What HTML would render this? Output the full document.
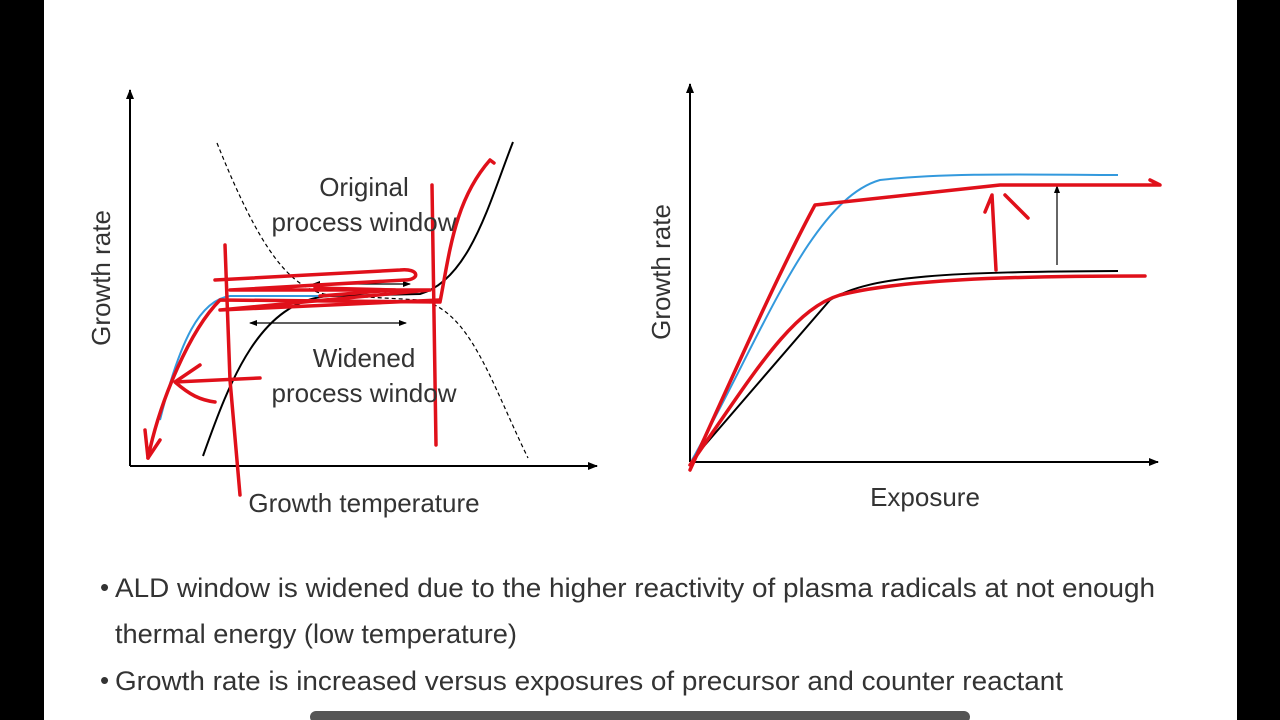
<!DOCTYPE html>
<html><head><style>
html,body{margin:0;padding:0;background:#000;}
svg{display:block;}
text{font-family:"Liberation Sans",sans-serif;fill:#333;}
</style></head><body>
<svg width="1280" height="720" viewBox="0 0 1280 720" xmlns="http://www.w3.org/2000/svg">
<rect x="0" y="0" width="1280" height="720" fill="#000"/>
<rect x="44" y="0" width="1193" height="720" fill="#fff"/>
<rect x="310" y="711" width="660" height="12" rx="6" fill="#555"/>
<defs>
<marker id="ah" markerWidth="10" markerHeight="10" refX="9" refY="5" orient="auto" markerUnits="userSpaceOnUse"><path d="M0,1 L10,5 L0,9 z" fill="#000"/></marker>
<marker id="ah2" markerWidth="8" markerHeight="8" refX="7" refY="4" orient="auto-start-reverse" markerUnits="userSpaceOnUse"><path d="M0,1 L8,4 L0,7 z" fill="#000"/></marker>
</defs>
<!-- left chart axes -->
<g stroke="#000" stroke-width="2" fill="none">
<path d="M130,466 L130,90" marker-end="url(#ah)"/>
<path d="M130,466 L597,466" marker-end="url(#ah)"/>
<path d="M690,462 L690,84" marker-end="url(#ah)"/>
<path d="M690,462 L1158,462" marker-end="url(#ah)"/>
</g>
<!-- left curves -->
<path d="M217,143 C260,250 290,290 330,295 L420,300 C470,310 490,380 528,458" stroke="#000" stroke-dasharray="4,3" fill="none" stroke-width="1.2"/>
<path d="M203,456 C230,380 260,300 330,296 L420,294 C470,280 490,200 513,142" stroke="#000" fill="none" stroke-width="2"/>
<path d="M160,420 C180,340 200,300 230,296 L330,296" stroke="#3399dd" fill="none" stroke-width="2"/>
<path d="M313,284 L410,284" stroke="#000" stroke-width="1.2" marker-start="url(#ah2)" marker-end="url(#ah2)"/>
<path d="M250,323 L406,323" stroke="#000" stroke-width="1.2" marker-start="url(#ah2)" marker-end="url(#ah2)"/>
<!-- right curves -->
<path d="M692,460 L830,300 C870,275 950,272 1118,271" stroke="#000" fill="none" stroke-width="2"/>
<path d="M692,460 C760,340 810,200 880,180 C950,172 1050,175 1118,175" stroke="#3399dd" fill="none" stroke-width="2"/>
<path d="M1057,265 L1057,186" stroke="#000" stroke-width="1.2" marker-end="url(#ah2)"/>
<!-- red annotations -->
<g stroke="#e0101a" stroke-width="3.5" fill="none" stroke-linecap="round" stroke-linejoin="round">
<path d="M148,458 C160,400 190,330 220,300 L440,302 C450,250 455,200 490,160 L494,163"/>
<path d="M148,458 L145,430 M148,458 L160,440"/>
<path d="M225,245 L230,380 L240,495"/>
<path d="M432,185 L436,445"/>
<path d="M215,280 L400,270 C420,268 420,280 405,280 L230,290 L430,290 L220,310 L440,300"/>
<path d="M260,378 L175,382 C190,395 200,400 215,402 M175,382 L200,365"/>
<path d="M690,470 C740,360 780,270 815,205 L1000,185 L1160,185 L1150,180"/>
<path d="M690,465 C750,380 790,310 840,295 C900,280 1000,276 1145,276"/>
<path d="M996,270 L992,195 L985,212 M1005,195 L1028,218"/>
<path d="M315,288 L395,290 L320,296"/>
</g>
<!-- labels -->
<text x="364" y="196" font-size="26" text-anchor="middle">Original</text>
<text x="364" y="231" font-size="26" text-anchor="middle">process window</text>
<text x="364" y="367" font-size="26" text-anchor="middle">Widened</text>
<text x="364" y="402" font-size="26" text-anchor="middle">process window</text>
<text x="364" y="512" font-size="26" text-anchor="middle">Growth temperature</text>
<text x="925" y="506" font-size="26" text-anchor="middle">Exposure</text>
<text transform="translate(110,278) rotate(-90)" font-size="26" text-anchor="middle">Growth rate</text>
<text transform="translate(670,272) rotate(-90)" font-size="26" text-anchor="middle">Growth rate</text>
<text x="100" y="596" font-size="26">•</text>
<text x="115" y="597" font-size="27" textLength="1040" lengthAdjust="spacingAndGlyphs">ALD window is widened due to the higher reactivity of plasma radicals at not enough</text>
<text x="115" y="643" font-size="27" textLength="402" lengthAdjust="spacingAndGlyphs">thermal energy (low temperature)</text>
<text x="100" y="689" font-size="26">•</text>
<text x="115" y="690" font-size="27" textLength="948" lengthAdjust="spacingAndGlyphs">Growth rate is increased versus exposures of precursor and counter reactant</text>
</svg>
</body></html>
